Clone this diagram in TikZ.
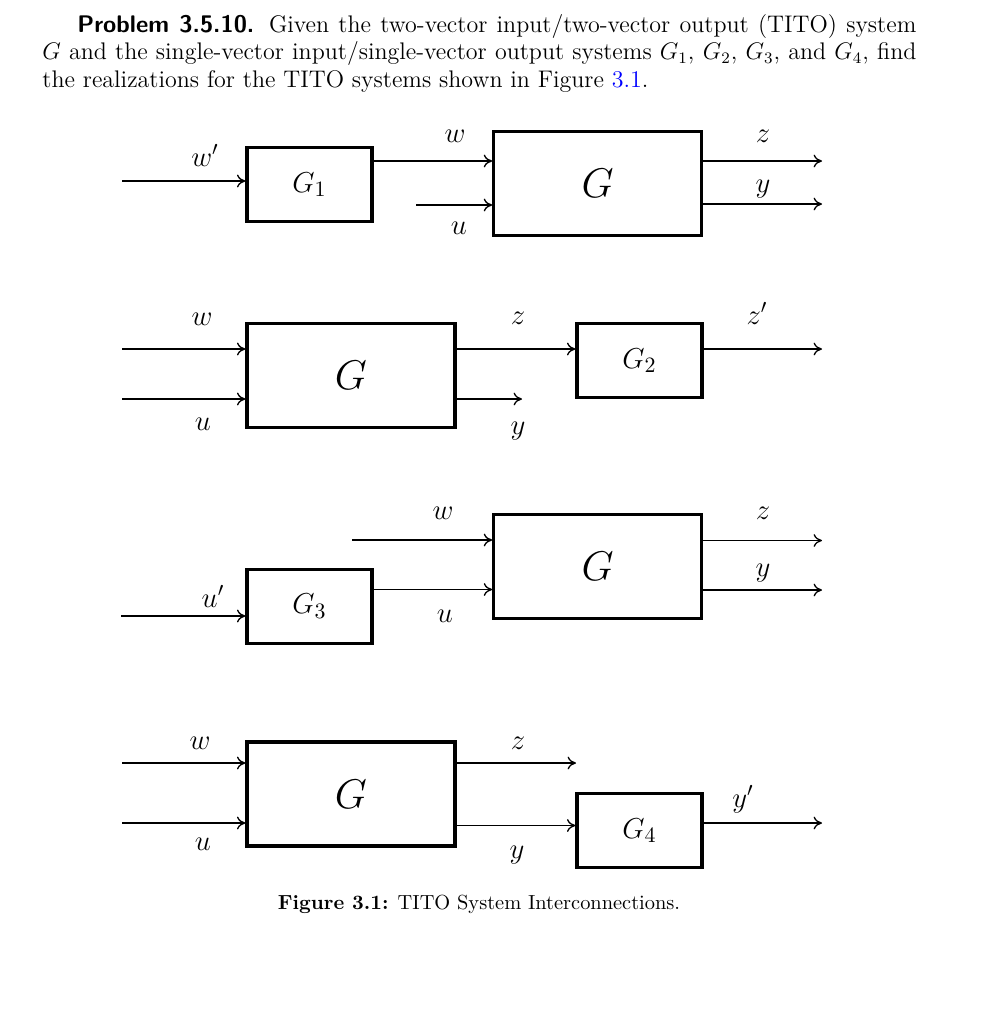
\documentclass[tikz,border=0pt]{standalone}
\usepackage{tikz}
\usetikzlibrary{arrows.meta}
\RequirePackage{xcolor}

\begin{document}
\begin{tikzpicture}[x=0.5pt,y=-0.5pt,
        every node/.style={font=\fontsize{14}{17}\selectfont},
        sig/.style={line width=0.65pt,-{To[length=4.2pt,width=6.4pt]}},
        bigsys/.style={draw,line width=1.6pt,minimum width=104pt,minimum height=52pt,inner sep=0pt,font=\fontsize{22}{26}\selectfont},
        smallsys/.style={draw,line width=1.6pt,minimum width=62.5pt,minimum height=37pt,inner sep=0pt,font=\fontsize{15}{18}\selectfont},
        lbl/.style={anchor=base}]
        \useasboundingbox (0,0) rectangle (1006,1024);

        \node[anchor=north west,inner sep=0pt,text width=437pt,align=justify,font=\fontsize{12}{13.75}\selectfont] at (42,14) (problem) {\hspace*{17.5pt}\textsf{\bfseries Problem 3.5.10.} Given the two-vector input/two-vector output (TITO) system\linebreak $G$ and the single-vector input/single-vector output systems $G_1$, $G_2$, $G_3$, and $G_4$, find\linebreak the realizations for the TITO systems shown in Figure \textcolor{blue}{3.1}.};

        % first interconnection
        \node[smallsys] at (309.5,184.5) (G1) {$G_1$};
        \node[bigsys] at (597.75,183.25) (G-a) {$G$};
        \coordinate (wp-a) at (122,181);
        \coordinate (w-a) at (372,161);
        \coordinate (u-a) at (416,205);
        \coordinate (z-a) at (822,161);
        \coordinate (y-a) at (822,204);
        \draw[sig] (wp-a) -- (wp-a -| G1.west);
        \draw[sig] (w-a) -- (w-a -| G-a.west);
        \draw[sig] (u-a) -- (u-a -| G-a.west);
        \draw[sig] (z-a -| G-a.east) -- (z-a);
        \draw[sig] (y-a -| G-a.east) -- (y-a);
        \node[lbl] at (205,166) (wp-a-lbl) {$w'$};
        \node[lbl] at (455,142) (w-a-lbl) {$w$};
        \node[lbl] at (459,234) (u-a-lbl) {$u$};
        \node[lbl] at (763,142) (z-a-lbl) {$z$};
        \node[lbl] at (763,192) (y-a-lbl) {$y$};

        % second interconnection
        \node[bigsys] at (351,375.5) (G-b) {$G$};
        \node[smallsys] at (639.5,360.75) (G2) {$G_2$};
        \coordinate (w-b) at (122,349);
        \coordinate (u-b) at (122,399);
        \coordinate (z-b) at (455,349);
        \coordinate (y-b) at (522,399);
        \coordinate (zp-b) at (822,349);
        \draw[sig] (w-b) -- (w-b -| G-b.west);
        \draw[sig] (u-b) -- (u-b -| G-b.west);
        \draw[sig] (z-b) -- (z-b -| G2.west);
        \draw[sig] (y-b -| G-b.east) -- (y-b);
        \draw[sig] (zp-b -| G2.east) -- (zp-b);
        \node[lbl] at (202,325) (w-b-lbl) {$w$};
        \node[lbl] at (203,430) (u-b-lbl) {$u$};
        \node[lbl] at (518,324) (z-b-lbl) {$z$};
        \node[lbl] at (518,434) (y-b-lbl) {$y$};
        \node[lbl] at (757,324) (zp-b-lbl) {$z'$};

        % third interconnection
        \node[bigsys] at (597.75,566.25) (G-c) {$G$};
        \node[smallsys] at (309.5,606.25) (G3) {$G_3$};
        \coordinate (w-c) at (352,540);
        \coordinate (up-c) at (121,616);
        \coordinate (u-c) at (372,589.5);
        \coordinate (z-c) at (822,540.5);
        \coordinate (y-c) at (822,590);
        \draw[sig] (w-c) -- (w-c -| G-c.west);
        \draw[sig] (up-c) -- (up-c -| G3.west);
        \draw[sig] (u-c) -- (u-c -| G-c.west);
        \draw[sig] (z-c -| G-c.east) -- (z-c);
        \draw[sig] (y-c -| G-c.east) -- (y-c);
        \node[lbl] at (443,519) (w-c-lbl) {$w$};
        \node[lbl] at (213,607) (up-c-lbl) {$u'$};
        \node[lbl] at (445,622) (u-c-lbl) {$u$};
        \node[lbl] at (763,519) (z-c-lbl) {$z$};
        \node[lbl] at (763,576) (y-c-lbl) {$y$};

        % fourth interconnection
        \node[bigsys] at (351,794) (G-d) {$G$};
        \node[smallsys] at (639.5,830.5) (G4) {$G_4$};
        \coordinate (w-d) at (122,763);
        \coordinate (u-d) at (122,823);
        \coordinate (z-d) at (576,763);
        \coordinate (y-d) at (455,825.5);
        \coordinate (yp-d) at (822,823);
        \draw[sig] (w-d) -- (w-d -| G-d.west);
        \draw[sig] (u-d) -- (u-d -| G-d.west);
        \draw[sig] (z-d -| G-d.east) -- (z-d);
        \draw[sig] (y-d) -- (y-d -| G4.west);
        \draw[sig] (yp-d -| G4.east) -- (yp-d);
        \node[lbl] at (200,749) (w-d-lbl) {$w$};
        \node[lbl] at (203,850) (u-d-lbl) {$u$};
        \node[lbl] at (518,749) (z-d-lbl) {$z$};
        \node[lbl] at (517,858) (y-d-lbl) {$y$};
        \node[lbl] at (743,807) (yp-d-lbl) {$y'$};

        \node[font=\fontsize{10.2}{12.5}\selectfont] at (479,904) (caption) {\textbf{Figure 3.1:} TITO System Interconnections.};
    \end{tikzpicture}
\end{document}
